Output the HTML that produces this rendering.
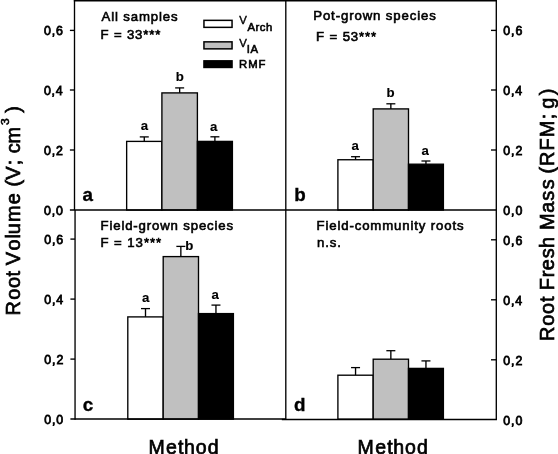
<!DOCTYPE html>
<html><head><meta charset="utf-8"><title>Root volume by method</title>
<style>
html,body{margin:0;padding:0;background:#fff;}
svg{display:block;font-family:"Liberation Sans",sans-serif;fill:#000;font-kerning:none;}
</style></head>
<body>
<svg width="558" height="454" viewBox="0 0 558 454">
<rect x="0" y="0" width="558" height="454" fill="#fff"/>
<line x1="144.275" y1="136.9" x2="144.275" y2="141.4" stroke="#000" stroke-width="1.35"/>
<line x1="139.775" y1="136.9" x2="148.775" y2="136.9" stroke="#000" stroke-width="1.3"/>
<rect x="126.65" y="141.4" width="35.25" height="68.65" fill="#fff" stroke="#000" stroke-width="1.35"/>
<line x1="179.65" y1="87.9" x2="179.65" y2="92.9" stroke="#000" stroke-width="1.35"/>
<line x1="175.15" y1="87.9" x2="184.15" y2="87.9" stroke="#000" stroke-width="1.3"/>
<rect x="161.9" y="92.9" width="35.5" height="117.15" fill="#c0c0c0" stroke="#000" stroke-width="1.35"/>
<line x1="214.9" y1="136.8" x2="214.9" y2="141.4" stroke="#000" stroke-width="1.35"/>
<line x1="210.4" y1="136.8" x2="219.4" y2="136.8" stroke="#000" stroke-width="1.3"/>
<rect x="197.4" y="141.4" width="35.0" height="68.65" fill="#000" stroke="#000" stroke-width="1.35"/>
<text transform="translate(144.4,130.1) scale(0.98,1)" font-size="13.5" font-weight="bold" text-anchor="middle" stroke="#000" stroke-width="0.15">a</text>
<text transform="translate(179.7,81.2) scale(0.98,1)" font-size="13.5" font-weight="bold" text-anchor="middle" stroke="#000" stroke-width="0.15">b</text>
<text transform="translate(213.6,130.6) scale(0.98,1)" font-size="13.5" font-weight="bold" text-anchor="middle" stroke="#000" stroke-width="0.15">a</text>
<line x1="355.549" y1="156.7" x2="355.549" y2="159.75" stroke="#000" stroke-width="1.35"/>
<line x1="351.049" y1="156.7" x2="360.049" y2="156.7" stroke="#000" stroke-width="1.3"/>
<rect x="337.9" y="159.75" width="35.300" height="50.300" fill="#fff" stroke="#000" stroke-width="1.35"/>
<line x1="390.85" y1="103.8" x2="390.85" y2="108.9" stroke="#000" stroke-width="1.35"/>
<line x1="386.35" y1="103.8" x2="395.35" y2="103.8" stroke="#000" stroke-width="1.3"/>
<rect x="373.2" y="108.9" width="35.300" height="101.15" fill="#c0c0c0" stroke="#000" stroke-width="1.35"/>
<line x1="425.95" y1="161.0" x2="425.95" y2="164.2" stroke="#000" stroke-width="1.35"/>
<line x1="421.45" y1="161.0" x2="430.45" y2="161.0" stroke="#000" stroke-width="1.3"/>
<rect x="408.5" y="164.2" width="34.899" height="45.850" fill="#000" stroke="#000" stroke-width="1.35"/>
<text transform="translate(355.3,149.6) scale(0.98,1)" font-size="13.5" font-weight="bold" text-anchor="middle" stroke="#000" stroke-width="0.15">a</text>
<text transform="translate(390.6,97.0) scale(0.98,1)" font-size="13.5" font-weight="bold" text-anchor="middle" stroke="#000" stroke-width="0.15">b</text>
<text transform="translate(425.3,155.1) scale(0.98,1)" font-size="13.5" font-weight="bold" text-anchor="middle" stroke="#000" stroke-width="0.15">a</text>
<line x1="145.5" y1="308.6" x2="145.5" y2="316.9" stroke="#000" stroke-width="1.35"/>
<line x1="141.0" y1="308.6" x2="150.0" y2="308.6" stroke="#000" stroke-width="1.3"/>
<rect x="127.8" y="316.9" width="35.399" height="102.25" fill="#fff" stroke="#000" stroke-width="1.35"/>
<line x1="180.85" y1="246.4" x2="180.85" y2="256.6" stroke="#000" stroke-width="1.35"/>
<line x1="176.35" y1="246.4" x2="185.35" y2="246.4" stroke="#000" stroke-width="1.3"/>
<rect x="163.2" y="256.6" width="35.300" height="162.549" fill="#c0c0c0" stroke="#000" stroke-width="1.35"/>
<line x1="215.95" y1="305.1" x2="215.95" y2="313.6" stroke="#000" stroke-width="1.35"/>
<line x1="211.45" y1="305.1" x2="220.45" y2="305.1" stroke="#000" stroke-width="1.3"/>
<rect x="198.5" y="313.6" width="34.900" height="105.549" fill="#000" stroke="#000" stroke-width="1.35"/>
<text transform="translate(145.7,302.4) scale(0.98,1)" font-size="13.5" font-weight="bold" text-anchor="middle" stroke="#000" stroke-width="0.15">a</text>
<text transform="translate(189.3,249.8) scale(0.98,1)" font-size="13.5" font-weight="bold" text-anchor="middle" stroke="#000" stroke-width="0.15">b</text>
<text transform="translate(215.2,298.8) scale(0.98,1)" font-size="13.5" font-weight="bold" text-anchor="middle" stroke="#000" stroke-width="0.15">a</text>
<line x1="355.549" y1="367.6" x2="355.549" y2="375.2" stroke="#000" stroke-width="1.35"/>
<line x1="351.049" y1="367.6" x2="360.049" y2="367.6" stroke="#000" stroke-width="1.3"/>
<rect x="337.9" y="375.2" width="35.300" height="43.949" fill="#fff" stroke="#000" stroke-width="1.35"/>
<line x1="390.85" y1="350.7" x2="390.85" y2="359.2" stroke="#000" stroke-width="1.35"/>
<line x1="386.35" y1="350.7" x2="395.35" y2="350.7" stroke="#000" stroke-width="1.3"/>
<rect x="373.2" y="359.2" width="35.300" height="59.949" fill="#c0c0c0" stroke="#000" stroke-width="1.35"/>
<line x1="425.95" y1="360.9" x2="425.95" y2="368.4" stroke="#000" stroke-width="1.35"/>
<line x1="421.45" y1="360.9" x2="430.45" y2="360.9" stroke="#000" stroke-width="1.3"/>
<rect x="408.5" y="368.4" width="34.899" height="50.75" fill="#000" stroke="#000" stroke-width="1.35"/>
<line x1="74.5" y1="0" x2="74.5" y2="210.05" stroke="#000" stroke-width="1.35"/>
<line x1="75.05" y1="210.05" x2="75.05" y2="419.825" stroke="#000" stroke-width="1.35"/>
<line x1="285.8" y1="0" x2="285.8" y2="419.825" stroke="#000" stroke-width="1.35"/>
<line x1="496.3" y1="0" x2="496.3" y2="419.825" stroke="#000" stroke-width="1.35"/>
<line x1="73.825" y1="0.78" x2="496.975" y2="0.78" stroke="#000" stroke-width="1.6"/>
<line x1="69.9" y1="210.05" x2="496.3" y2="210.05" stroke="#000" stroke-width="1.6"/>
<line x1="70.4" y1="419.049" x2="285.8" y2="419.049" stroke="#000" stroke-width="1.5"/>
<line x1="281.8" y1="419.45" x2="496.975" y2="419.45" stroke="#000" stroke-width="1.5"/>
<line x1="69.9" y1="30.4" x2="74.5" y2="30.4" stroke="#000" stroke-width="1.35"/>
<line x1="69.9" y1="90.0" x2="74.5" y2="90.0" stroke="#000" stroke-width="1.35"/>
<line x1="69.9" y1="150.0" x2="74.5" y2="150.0" stroke="#000" stroke-width="1.35"/>
<line x1="70.4" y1="239.1" x2="75.05" y2="239.1" stroke="#000" stroke-width="1.35"/>
<line x1="70.4" y1="299.1" x2="75.05" y2="299.1" stroke="#000" stroke-width="1.35"/>
<line x1="70.4" y1="359.1" x2="75.05" y2="359.1" stroke="#000" stroke-width="1.35"/>
<line x1="491.0" y1="30.4" x2="496.3" y2="30.4" stroke="#000" stroke-width="1.35"/>
<line x1="491.0" y1="90.0" x2="496.3" y2="90.0" stroke="#000" stroke-width="1.35"/>
<line x1="491.0" y1="150.0" x2="496.3" y2="150.0" stroke="#000" stroke-width="1.35"/>
<line x1="491.0" y1="239.799" x2="496.3" y2="239.799" stroke="#000" stroke-width="1.35"/>
<line x1="491.0" y1="299.8" x2="496.3" y2="299.8" stroke="#000" stroke-width="1.35"/>
<line x1="491.0" y1="359.8" x2="496.3" y2="359.8" stroke="#000" stroke-width="1.35"/>
<text transform="translate(43.92,35.3) scale(0.96,1)" font-size="12.9" font-weight="normal" letter-spacing="0.944" stroke="#000" stroke-width="0.8">0,6</text>
<text transform="translate(503.22,35.3) scale(0.96,1)" font-size="12.9" font-weight="normal" letter-spacing="0.996" stroke="#000" stroke-width="0.8">0,6</text>
<text transform="translate(43.92,94.9) scale(0.96,1)" font-size="12.9" font-weight="normal" letter-spacing="0.850" stroke="#000" stroke-width="0.8">0,4</text>
<text transform="translate(503.22,94.9) scale(0.96,1)" font-size="12.9" font-weight="normal" letter-spacing="0.902" stroke="#000" stroke-width="0.8">0,4</text>
<text transform="translate(43.92,154.9) scale(0.96,1)" font-size="12.9" font-weight="normal" letter-spacing="0.985" stroke="#000" stroke-width="0.8">0,2</text>
<text transform="translate(503.22,154.9) scale(0.96,1)" font-size="12.9" font-weight="normal" letter-spacing="1.037" stroke="#000" stroke-width="0.8">0,2</text>
<text transform="translate(43.92,214.950) scale(0.96,1)" font-size="12.9" font-weight="normal" letter-spacing="0.913" stroke="#000" stroke-width="0.8">0,0</text>
<text transform="translate(503.22,214.950) scale(0.96,1)" font-size="12.9" font-weight="normal" letter-spacing="0.965" stroke="#000" stroke-width="0.8">0,0</text>
<text transform="translate(44.22,244.2) scale(0.96,1)" font-size="12.9" font-weight="normal" letter-spacing="0.944" stroke="#000" stroke-width="0.8">0,6</text>
<text transform="translate(503.22,244.7) scale(0.96,1)" font-size="12.9" font-weight="normal" letter-spacing="0.996" stroke="#000" stroke-width="0.8">0,6</text>
<text transform="translate(44.22,304.200) scale(0.96,1)" font-size="12.9" font-weight="normal" letter-spacing="0.850" stroke="#000" stroke-width="0.8">0,4</text>
<text transform="translate(503.22,304.700) scale(0.96,1)" font-size="12.9" font-weight="normal" letter-spacing="0.902" stroke="#000" stroke-width="0.8">0,4</text>
<text transform="translate(44.22,364.200) scale(0.96,1)" font-size="12.9" font-weight="normal" letter-spacing="0.985" stroke="#000" stroke-width="0.8">0,2</text>
<text transform="translate(503.22,364.700) scale(0.96,1)" font-size="12.9" font-weight="normal" letter-spacing="1.037" stroke="#000" stroke-width="0.8">0,2</text>
<text transform="translate(44.22,424.25) scale(0.96,1)" font-size="12.9" font-weight="normal" letter-spacing="0.913" stroke="#000" stroke-width="0.8">0,0</text>
<text transform="translate(503.22,424.75) scale(0.96,1)" font-size="12.9" font-weight="normal" letter-spacing="0.965" stroke="#000" stroke-width="0.8">0,0</text>
<text transform="translate(101.57,20.8) scale(1.0,1)" font-size="13.2" font-weight="normal" letter-spacing="0.851" stroke="#000" stroke-width="0.6">All samples</text>
<text transform="translate(100.52,38.5) scale(1.0,1)" font-size="13.2" font-weight="normal" letter-spacing="0.824" stroke="#000" stroke-width="0.6">F = 33***</text>
<text transform="translate(313.22,20.2) scale(1.0,1)" font-size="13.2" font-weight="normal" letter-spacing="0.886" stroke="#000" stroke-width="0.6">Pot-grown species</text>
<text transform="translate(316.12,40.8) scale(1.0,1)" font-size="13.2" font-weight="normal" letter-spacing="0.861" stroke="#000" stroke-width="0.6">F = 53***</text>
<text transform="translate(100.52,229.6) scale(1.0,1)" font-size="13.2" font-weight="normal" letter-spacing="0.849" stroke="#000" stroke-width="0.6">Field-grown species</text>
<text transform="translate(100.52,247.4) scale(1.0,1)" font-size="13.2" font-weight="normal" letter-spacing="0.936" stroke="#000" stroke-width="0.6">F = 13***</text>
<text transform="translate(316.52,229.6) scale(1.0,1)" font-size="13.2" font-weight="normal" letter-spacing="0.866" stroke="#000" stroke-width="0.6">Field-community roots</text>
<text transform="translate(316.92,247.0) scale(1.0,1)" font-size="13.2" font-weight="normal" letter-spacing="0.935" stroke="#000" stroke-width="0.6">n.s.</text>
<text transform="translate(82.5,201.4) scale(0.98,1)" font-size="19.2" font-weight="bold" text-anchor="start" stroke="#000" stroke-width="0.35">a</text>
<text transform="translate(294.3,201.3) scale(0.98,1)" font-size="19.2" font-weight="bold" text-anchor="start" stroke="#000" stroke-width="0.35">b</text>
<text transform="translate(82.7,410.8) scale(0.98,1)" font-size="19.2" font-weight="bold" text-anchor="start" stroke="#000" stroke-width="0.35">c</text>
<text transform="translate(294.0,410.7) scale(0.98,1)" font-size="19.2" font-weight="bold" text-anchor="start" stroke="#000" stroke-width="0.35">d</text>
<rect x="203.95" y="20.35" width="28.1" height="7.00" fill="#fff" stroke="#000" stroke-width="1.5"/>
<rect x="203.95" y="41.85" width="28.1" height="7.00" fill="#c0c0c0" stroke="#000" stroke-width="1.5"/>
<rect x="203.95" y="60.85" width="28.1" height="6.60" fill="#000" stroke="#000" stroke-width="1.5"/>
<text x="239.35" y="24.3" font-size="11.4" stroke="#000" stroke-width="0.4">V<tspan x="247.48" y="31.4" font-size="11.3" letter-spacing="0.540" stroke-width="0.6">Arch</tspan></text>
<text x="239.35" y="46.6" font-size="11.4" stroke="#000" stroke-width="0.4">V<tspan x="246.86" y="52.7" font-size="11.3" letter-spacing="0.388" stroke-width="0.6">IA</tspan></text>
<text transform="translate(239.07,68.0) scale(1.0,1)" font-size="11.3" font-weight="normal" letter-spacing="0.902" stroke="#000" stroke-width="0.6">RMF</text>
<text transform="translate(0,453.8) scale(1.0,1)" font-size="19.5" font-weight="normal" stroke="#000" stroke-width="0.7" x="148.38 166.10 178.01 184.03 195.73 207.75">Method</text>
<text transform="translate(0,453.8) scale(1.0,1)" font-size="19.5" font-weight="normal" stroke="#000" stroke-width="0.7" x="357.58 375.30 387.21 393.23 404.93 416.95">Method</text>
<text transform="translate(19.75,400.0) rotate(-90) scale(1.02,1)" font-size="19.5" stroke="#000" stroke-width="0.7" x="82.95 98.35 109.82 121.09 126.80 132.22 146.49 158.32 162.63 174.47 191.80 203.47 209.20 216.00 230.23 235.65 241.90 251.53 269.69 276.27 281.71">Root Volume (V; cm<tspan dy="-10.9" font-size="11.8" stroke-width="0.6">3</tspan><tspan dy="10.9"> )</tspan></text>
<text transform="translate(553.7,400.0) rotate(-90) scale(1.02,1)" font-size="19.5" font-weight="normal" stroke="#000" stroke-width="0.7" x="57.86 72.76 84.43 96.09 102.63 107.51 120.43 127.29 138.88 148.95 160.58 166.58 183.58 195.40 206.63 216.70 222.14 229.52 244.62 257.56 275.23 279.99 285.53 298.82">Root Fresh Mass (RFM; g)</text>
</svg>
</body></html>
